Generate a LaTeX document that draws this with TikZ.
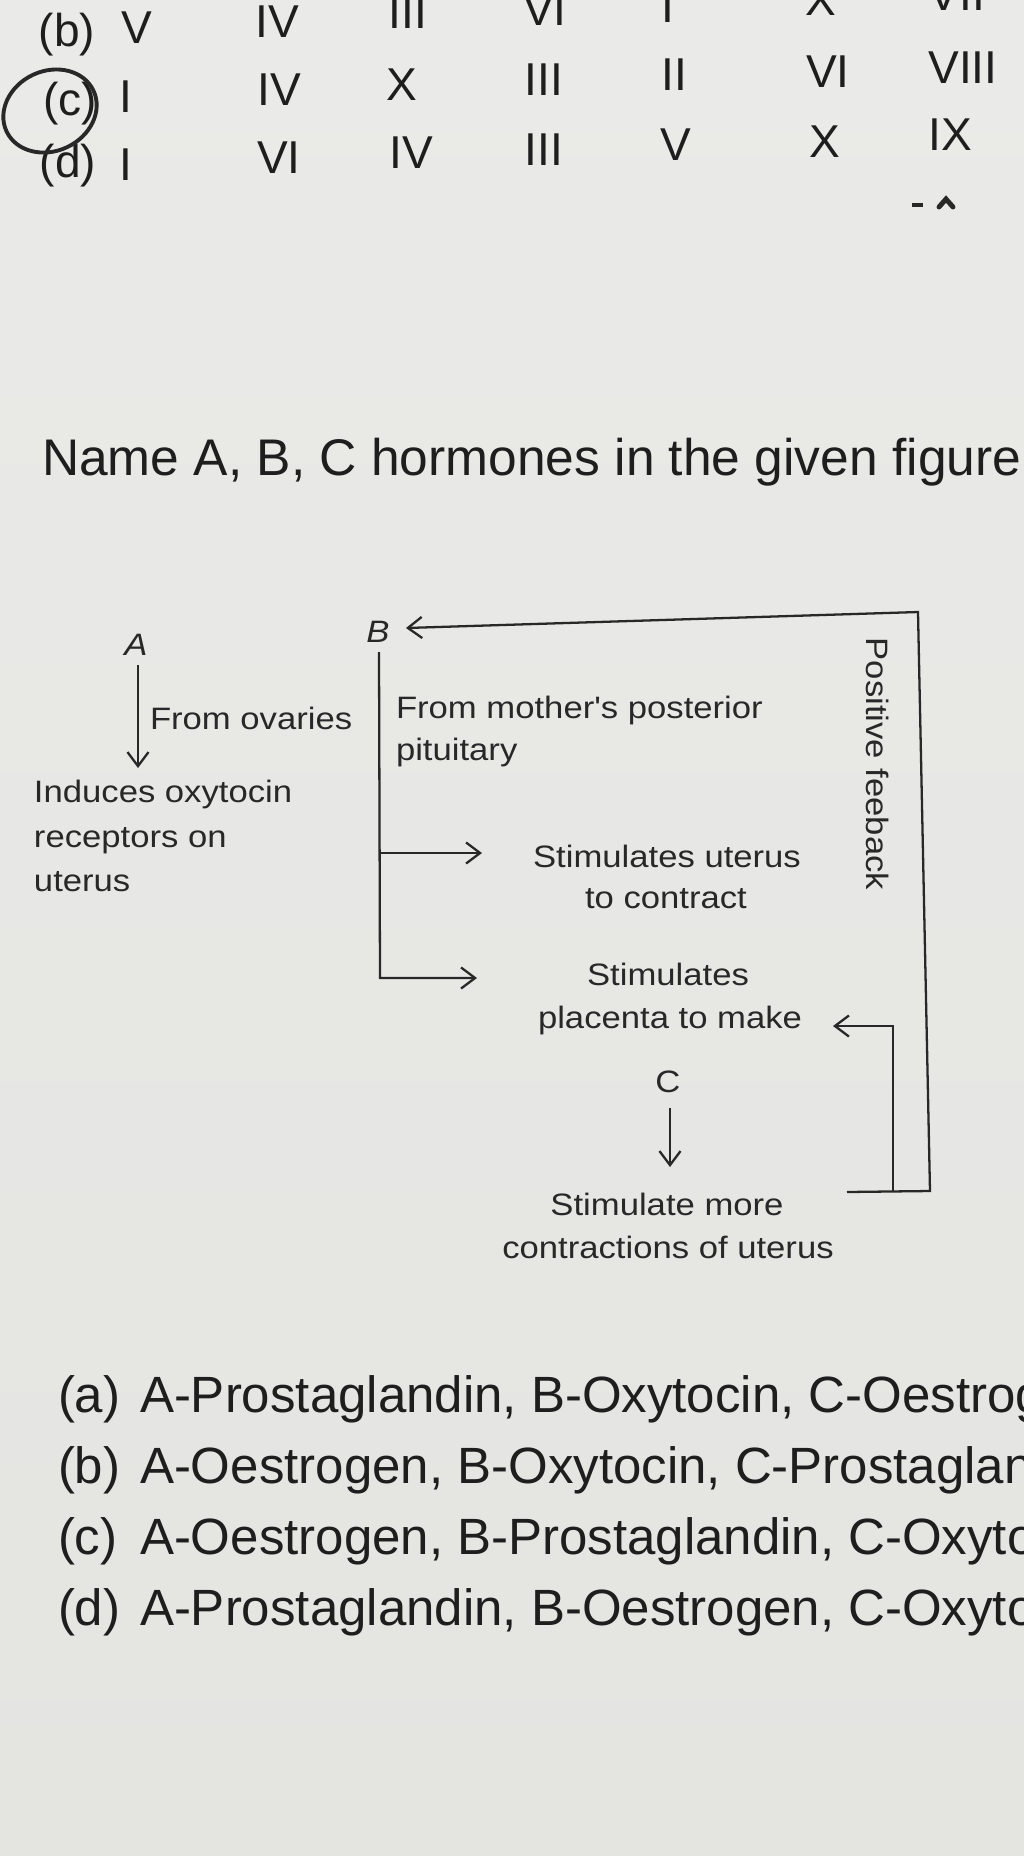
\documentclass[tikz,border=0pt]{standalone}
\usepackage{fontspec}
\setmainfont{Liberation Sans}
\newfontfamily\diagfont[FakeStretch=1.12]{Liberation Sans}
\usetikzlibrary{arrows.meta}

\definecolor{paperTop}{RGB}{234,234,232}
\definecolor{paperMid}{RGB}{219,219,216}
\definecolor{paperBot}{RGB}{228,228,225}
\definecolor{ink}{RGB}{30,30,30}
\definecolor{pen}{RGB}{40,40,40}

\begin{document}
\begin{tikzpicture}[x=0.01cm, y=-0.01cm, color=ink,
      every node/.append style={inner sep=0pt, outer sep=0pt}]
    \tikzstyle{roman} = [font=\fontsize{13.1}{15}\selectfont, anchor=base]
    \tikzstyle{option} = [font=\fontsize{14.5}{17}\selectfont, anchor=base west]
    \tikzstyle{word} = [font=\diagfont\fontsize{8.8}{12}\selectfont, color=pen]
    \tikzstyle{link} = [line width=0.65pt, color=pen]
    \tikzstyle{hit} = [link, -{Straight Barb[length=4pt,width=6pt]}]

    \useasboundingbox (0,0) rectangle (1024,1856);
    \shade[top color=paperTop, middle color=paperMid, bottom color=paperBot] (0,0) rectangle (1024,1856);

    % matching rows left over from the previous question
    \foreach \t/\x/\y [count=\i] in {(b)/67/46, V/137/43, IV/277/37, III/408/28, VI/545/25, I/668/22, X/821/15, VII/957/10}
      \node[roman] (rowb\i) at (\x,\y) {\t};
    \foreach \t/\x/\y [count=\i] in {(c)/70/115, I/126/112, IV/279/105, X/402/100, III/544/95, II/674/90, VI/828/87, VIII/963/83}
      \node[roman] (rowc\i) at (\x,\y) {\t};
    \foreach \t/\x/\y [count=\i] in {(d)/68/177, I/126/180, VI/279/173, IV/411/168, III/544/165, V/676/160, X/825/157, IX/950/150}
      \node[roman] (rowd\i) at (\x,\y) {\t};
    \draw[line width=1.1pt, color=pen, rotate around={25:(50,111)}] (50,111) ellipse (48 and 40);
    \draw[line width=1.2pt, color=pen] (912,205) -- (923,205);
    \draw[line width=1.4pt, color=pen, line cap=round] (939,207) -- (946,199) -- (953,207);

    % question
    \node[anchor=base west, font=\fontsize{14.65}{17}\selectfont] (question) at (42,475) {Name A, B, C hormones in the given figure};

    % left branch
    \node[word, anchor=base, font=\diagfont\itshape\fontsize{8.8}{12}\selectfont] (A) at (136,655) {A};
    \coordinate (Atop) at (138,665);
    \coordinate (Atip) at (138,768);
    \draw[hit] (Atop) -- (Atip);
    \node[word, anchor=base west] (ovaries) at (150,729) {From ovaries};
    \node[word, anchor=base west] (induce1) at (34,802) {Induces oxytocin};
    \node[word, anchor=base west] (induce2) at (34,847) {receptors on};
    \node[word, anchor=base west] (induce3) at (34,891) {uterus};

    % right branch
    \node[word, anchor=base, font=\diagfont\itshape\fontsize{8.8}{12}\selectfont] (B) at (378,642) {B};
    \node[word, anchor=base west] (mother1) at (396,718) {From mother's posterior};
    \node[word, anchor=base west] (mother2) at (396,760) {pituitary};
    \node[word, anchor=base] (uterus1) at (667,867) {Stimulates uterus};
    \node[word, anchor=base] (uterus2) at (666,908) {to contract};
    \node[word, anchor=base] (placenta1) at (668,985) {Stimulates};
    \node[word, anchor=base] (placenta2) at (670,1028) {placenta to make};
    \node[word, anchor=base] (C) at (668,1092) {C};
    \node[word, anchor=base] (more1) at (667,1215) {Stimulate more};
    \node[word, anchor=base] (more2) at (668,1258) {contractions of uterus};
    \node[word, rotate=-90] (feedback) at (878,764) {Positive feeback};

    \coordinate (Btop) at (379,652);
    \coordinate (Bmid) at (379,853);
    \coordinate (Bbot) at (380,978);
    \coordinate (tipU) at (482,853);
    \coordinate (tipP) at (477,978);
    \draw[hit] (Btop) -- (Bbot) -- (tipP);
    \draw[hit] (Bmid) -- (tipU);

    \coordinate (Ctop) at (670,1108);
    \coordinate (Ctip) at (670,1167);
    \draw[hit] (Ctop) -- (Ctip);

    % feedback loops
    \coordinate (loopL) at (847,1192);
    \coordinate (loopR) at (930,1191);
    \coordinate (loopTop) at (918,612);
    \coordinate (tipB) at (406,628);
    \coordinate (innerBot) at (893,1191);
    \coordinate (innerTop) at (893,1026);
    \coordinate (tipC) at (833,1026);
    \draw[hit] (loopL) -- (loopR) -- (loopTop) -- (tipB);
    \draw[hit] (innerBot) -- (innerTop) -- (tipC);

    % answer choices
    \foreach \l/\t [count=\i] in {a/{A-Prostaglandin, B-Oxytocin, C-Oestrogen},
        b/{A-Oestrogen, B-Oxytocin, C-Prostaglandin},
        c/{A-Oestrogen, B-Prostaglandin, C-Oxytocin},
        d/{A-Prostaglandin, B-Oestrogen, C-Oxytocin}} {
      \node[option] (label\l) at (58,1341+71*\i) {(\l)};
      \node[option] (choice\l) at (140,1341+71*\i) {\t};
    }
\end{tikzpicture}
\end{document}
